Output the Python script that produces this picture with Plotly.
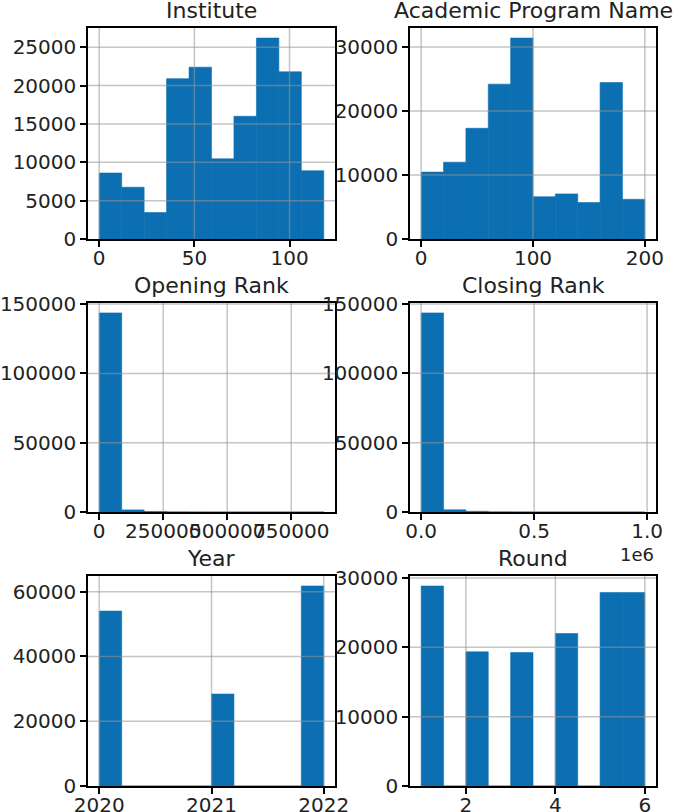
import numpy as np
import plotly.graph_objects as go

# ---------------- data ----------------
titles = ["Institute", "Academic Program Name", "Opening Rank",
          "Closing Rank", "Year", "Round"]

institute_range = [0, 118]
institute_counts = [8600, 6750, 3450, 20900, 22400, 10450, 16000, 26200, 21800, 8900]

program_range = [0, 200]
program_counts = [10450, 12000, 17300, 24200, 31400, 6600, 7050, 5700, 24450, 6200]

opening_range = [0, 877000]
opening_counts = [143600, 1500, 400, 60, 20, 10, 5, 3, 2, 1]

closing_range = [0, 990000]
closing_counts = [143500, 1600, 500, 80, 30, 10, 5, 3, 2, 1]

year_range = [2020, 2022]
year_counts = [54000, 0, 0, 0, 0, 28400, 0, 0, 0, 61750]

round_range = [1, 6]
round_counts = [28850, 0, 19350, 0, 19250, 0, 22000, 0, 27900, 27900]

institute_xticks = [0, 50, 100]
institute_yticks = [0, 5000, 10000, 15000, 20000, 25000]
program_xticks = [0, 100, 200]
program_yticks = [0, 10000, 20000, 30000]
opening_xticks = [0, 250000, 500000, 750000]
opening_xtext = ["0", "250000", "500000", "750000"]
rank_yticks = [0, 50000, 100000, 150000]
closing_xticks = [0, 500000, 1000000]
closing_xtext = ["0.0", "0.5", "1.0"]
year_xticks = [2020, 2021, 2022]
year_yticks = [0, 20000, 40000, 60000]
round_xticks = [2, 4, 6]
round_yticks = [0, 10000, 20000, 30000]

# ---------------- layout / style ----------------
W, H = 685, 812
BAR = "#0b6fb1"
FONT = "DejaVu Sans"
TXT = "#222222"

col_px = [(88, 335), (410, 656)]
row_px = [(28, 239), (303, 512), (576, 786)]

panels = [
    (institute_range, institute_counts, institute_xticks, None, institute_yticks),
    (program_range, program_counts, program_xticks, None, program_yticks),
    (opening_range, opening_counts, opening_xticks, opening_xtext, rank_yticks),
    (closing_range, closing_counts, closing_xticks, closing_xtext, rank_yticks),
    (year_range, year_counts, year_xticks, None, year_yticks),
    (round_range, round_counts, round_xticks, None, round_yticks),
]

fig = go.Figure()
layout = dict(
    width=W, height=H, margin=dict(l=0, r=0, t=0, b=0),
    paper_bgcolor="white", plot_bgcolor="white",
    showlegend=False, font=dict(family=FONT, size=20, color=TXT),
)
shapes = []
annotations = []

for i, (rng, counts, xt, xtext, yt) in enumerate(panels):
    r, c = divmod(i, 2)
    n = i + 1
    xa = "x" if n == 1 else f"x{n}"
    ya = "y" if n == 1 else f"y{n}"
    lo, hi = rng
    edges = np.linspace(lo, hi, len(counts) + 1)
    binw = edges[1] - edges[0]
    fig.add_trace(go.Bar(
        x=edges[:-1], y=counts, width=binw, offset=0,
        marker=dict(color=BAR, line=dict(width=0.6, color=BAR)),
        xaxis=xa, yaxis=ya, hoverinfo="x+y",
    ))
    span = hi - lo
    xr = [lo - 0.05 * span, hi + 0.05 * span]
    yr = [0, 1.05 * max(counts)]
    x0p, x1p = col_px[c]
    y0p, y1p = row_px[r]
    xdom = [x0p / W, x1p / W]
    ydom = [1 - y1p / H, 1 - y0p / H]
    axcommon = dict(
        showline=True, linecolor="black", linewidth=1.5, mirror=True,
        ticks="outside", ticklen=6, tickwidth=1.5, tickcolor="black",
        showgrid=False, zeroline=False, automargin=False, tickangle=0,
        tickfont=dict(family=FONT, size=20, color=TXT),
    )
    xdict = dict(axcommon, domain=xdom, range=xr, anchor=ya,
                 tickmode="array", tickvals=xt, ticklabelstandoff=-6)
    if xtext is not None:
        xdict["ticktext"] = xtext
    ydict = dict(axcommon, domain=ydom, range=yr, anchor=xa,
                 tickmode="array", tickvals=yt,
                 ticktext=[str(v) for v in yt])
    layout["xaxis" if n == 1 else f"xaxis{n}"] = xdict
    layout["yaxis" if n == 1 else f"yaxis{n}"] = ydict

    # gridlines drawn above the bars, like the reference
    gcol = "rgba(150,150,150,0.55)"
    for v in xt:
        if xr[0] < v < xr[1]:
            shapes.append(dict(type="line", layer="above", xref=xa,
                               yref=f"{ya} domain", x0=v, x1=v, y0=0, y1=1,
                               line=dict(color=gcol, width=1.5)))
    for v in yt:
        if 0 < v < yr[1]:
            shapes.append(dict(type="line", layer="above", xref=f"{xa} domain",
                               yref=ya, x0=0, x1=1, y0=v, y1=v,
                               line=dict(color=gcol, width=1.5)))

    annotations.append(dict(
        text=titles[i], xref="paper", yref="paper",
        x=(xdom[0] + xdom[1]) / 2, y=ydom[1], xanchor="center",
        yanchor="bottom", yshift=3, showarrow=False,
        font=dict(family=FONT, size=22, color=TXT),
    ))

# offset text of the Closing Rank x axis
annotations.append(dict(
    text="1e6", xref="paper", yref="paper",
    x=656 / W, y=1 - 554 / H, xanchor="right", yanchor="middle",
    showarrow=False, font=dict(family=FONT, size=18, color=TXT),
))

layout["shapes"] = shapes
layout["annotations"] = annotations
fig.update_layout(**layout)
fig.write_html("out.html")
